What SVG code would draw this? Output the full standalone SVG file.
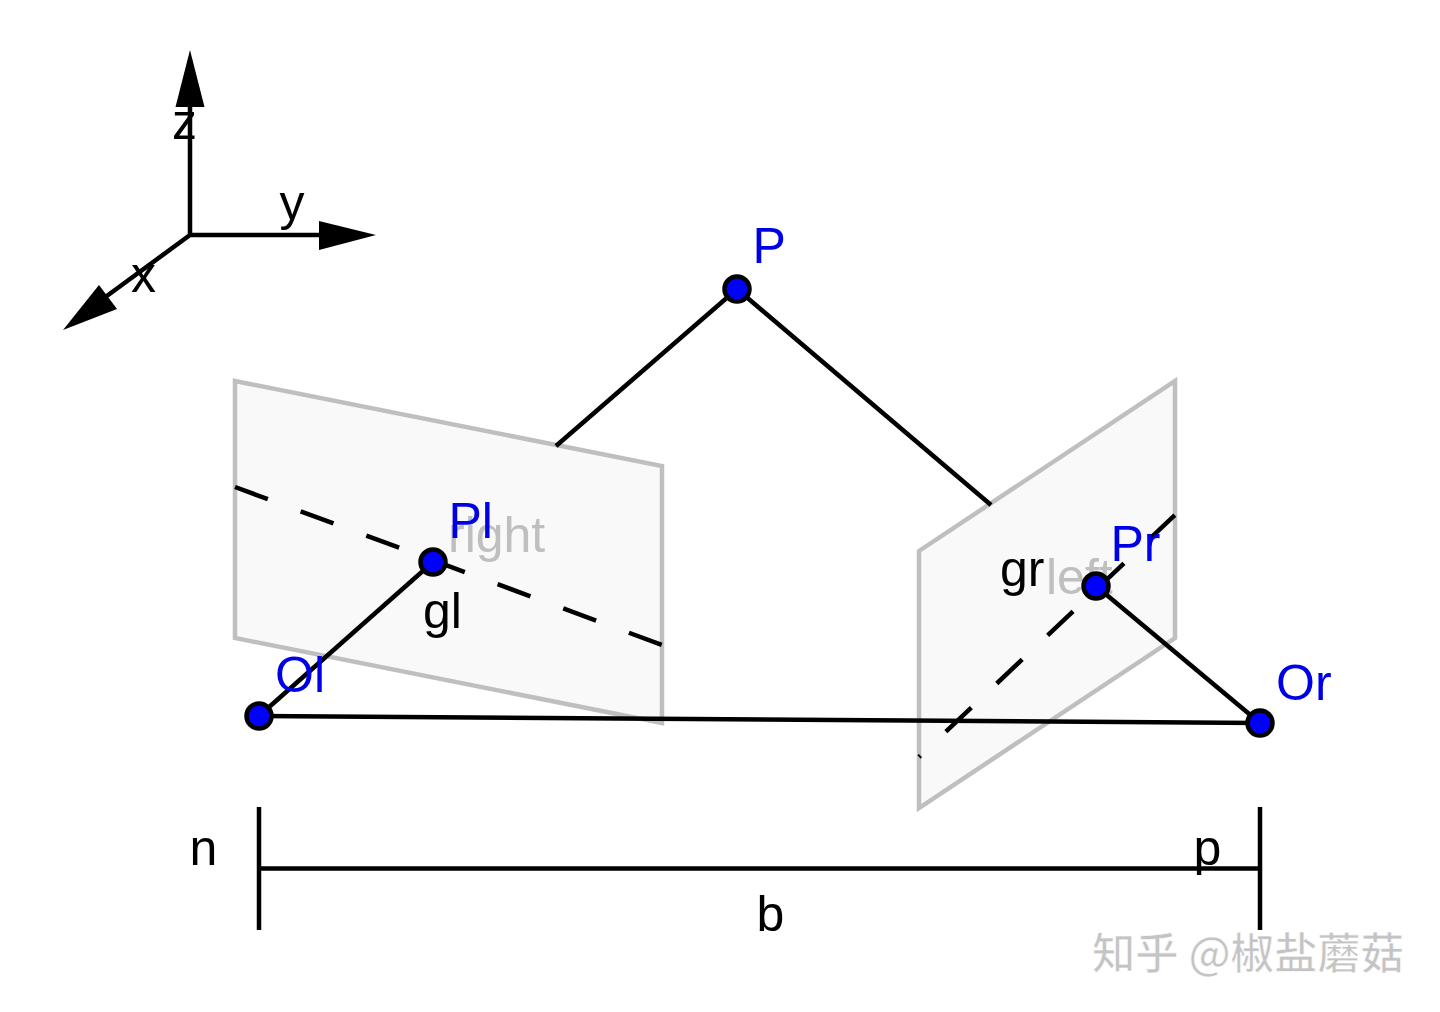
<svg xmlns="http://www.w3.org/2000/svg" width="1440" height="1012" viewBox="0 0 1440 1012">
<style>
.l{fill:none;stroke:#000;stroke-width:4.500}
.d{stroke-dasharray:35 35}
.pl{fill:#f9f9f9;stroke:#bfbfbf;stroke-width:4.500}
.t{font-family:"Liberation Sans",Arial,sans-serif;font-size:50px;fill:#000}
.b{fill:#0000e6}
.g{fill:#bfbfbf}
.n{fill:#0000ff;stroke:#000;stroke-width:4.500}
.w{font-family:"Noto Sans CJK SC","Liberation Sans",sans-serif;font-size:43.500px;font-weight:500;fill:#c4c4c4;stroke:#fff;stroke-width:.6}
</style>
<rect width="1440" height="1012" fill="#fff"/>
<g id="plane-right"><polygon class="pl" points="235,381 662,466 662,723 235,638"/><text class="t g" x="448" y="552">right</text></g>
<g id="plane-left"><polygon class="pl" points="919,551 1175,381 1175,638 919,808"/><text class="t g" x="1046" y="594">left</text></g>
<g id="connectors">
<path class="l" d="M556,446L737,289L991,505"/>
<path class="l d" d="M235,487L662,645"/>
<path class="l d" stroke-dashoffset="33" d="M919,757L1175,515"/>
<path class="l" d="M259,716L433,562"/>
<path class="l" d="M1096,586L1260,723"/>
<path class="l" d="M259,716L1260,723"/>
<path class="l" d="M259,807V930M1260,807V930M259,868.500H1260"/>
<path class="l" d="M190,235V100M190,235H325M190,235L100,301"/>
<polygon points="190,50 204.500,107 175.500,107"/>
<polygon points="376,235 319,221 319,250"/>
<polygon points="63,330 99,285 117,309"/>
</g>
<g id="node-P"><circle class="n" cx="737" cy="289" r="12.500"/><text class="t b" x="752.500" y="263">P</text></g>
<g id="node-Pl"><circle class="n" cx="433" cy="562" r="12.500"/><text class="t b" x="448.500" y="538">Pl</text></g>
<g id="node-Pr"><circle class="n" cx="1096" cy="586" r="12.500"/><text class="t b" x="1110.500" y="561">Pr</text></g>
<g id="node-Ol"><circle class="n" cx="259" cy="716" r="12.500"/><text class="t b" x="275" y="692">Ol</text></g>
<g id="node-Or"><circle class="n" cx="1260" cy="723" r="12.500"/><text class="t b" x="1276" y="700">Or</text></g>
<g id="labels">
<text class="t" x="172" y="139">z</text>
<text class="t" x="279.500" y="220">y</text>
<text class="t" x="131" y="292">x</text>
<text class="t" x="423" y="628">gl</text>
<text class="t" x="1000" y="586">gr</text>
<text class="t" x="189.500" y="865">n</text>
<text class="t" x="1193.500" y="865">p</text>
<text class="t" x="756.500" y="931">b</text>
</g>
<text class="w" x="1092" y="969" textLength="312" lengthAdjust="spacingAndGlyphs">知乎 @椒盐蘑菇</text>
</svg>
